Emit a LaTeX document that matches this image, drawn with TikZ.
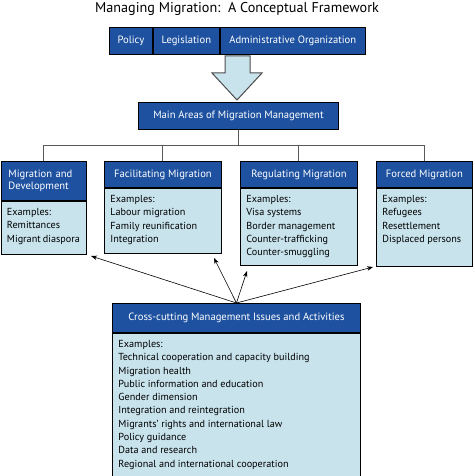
\documentclass[tikz,border=0pt]{standalone}
\usepackage{fontspec}
\setmainfont{PT Sans}
\usetikzlibrary{positioning,arrows.meta}
\definecolor{iomblue}{RGB}{30,82,160}
\definecolor{iomlight}{RGB}{200,227,236}
\tikzset{
    area-head/.style = {draw=black, fill=iomblue, text=white, line width=0.9pt, inner sep=0pt, font=\fontsize{10.6}{12}\selectfont},
    area-body/.style = {draw=black, fill=iomlight, line width=0.9pt, inner xsep=6pt, inner ysep=7pt, font=\fontsize{10.2}{13.3}\selectfont},
    tree-line/.style = {draw=black!65, line width=1pt},
    link-arrow/.style = {draw=black, line width=0.6pt, -{Stealth[length=6pt, width=4.5pt]}},
    big-arrow/.style = {draw=black!70, fill=iomlight, line width=1pt},
}

\begin{document}
\begin{tikzpicture}[x=1pt, y=-1pt]
\useasboundingbox (0,0) rectangle (474,476);
\node[font=\fontsize{14.2}{16}\selectfont] (title) at (237,9) {Managing Migration:\ \ A Conceptual Framework};

% top bar
\node[area-head, anchor=north west, minimum width=43pt, minimum height=27pt] (policy) at (109,27) {Policy};
\node[area-head, minimum width=66pt, minimum height=27pt, right=0pt of policy] (legis) {Legislation};
\node[area-head, minimum width=145pt, minimum height=27pt, right=0pt of legis] (admin) {Administrative Organization};

\draw[big-arrow] (225,56) -- (225,73) -- (212,73) -- (237,100) -- (262,73) -- (250,73) -- (250,56) -- cycle;

\node[area-head, anchor=north west, minimum width=200pt, minimum height=27pt] (main) at (138,102) {Main Areas of Migration Management};

% four areas
\node[area-head, anchor=north west, minimum width=85pt, minimum height=39pt, text width=70pt, align=left] (dev-head) at (0.5,161) {Migration and\\Development};
\node[area-body, below=0pt of dev-head] (dev-body) {\begin{minipage}[t][39pt][t]{73pt}Examples:\\Remittances\\Migrant diaspora\end{minipage}};

\node[area-head, anchor=north west, minimum width=117pt, minimum height=26pt] (fac-head) at (104,161) {Facilitating Migration};
\node[area-body, below=0pt of fac-head] (fac-body) {\begin{minipage}[t][51pt][t]{105pt}Examples:\\Labour migration\\Family reunification\\Integration\end{minipage}};

\node[area-head, anchor=north west, minimum width=117pt, minimum height=26pt] (reg-head) at (240,161) {Regulating Migration};
\node[area-body, below=0pt of reg-head] (reg-body) {\begin{minipage}[t][63pt][t]{105pt}Examples:\\Visa systems\\Border management\\Counter-trafficking\\Counter-smuggling\end{minipage}};

\node[area-head, anchor=north west, minimum width=96pt, minimum height=26pt] (forced-head) at (376,161) {Forced Migration};
\node[area-body, below=0pt of forced-head] (forced-body) {\begin{minipage}[t][64pt][t]{84pt}Examples:\\Refugees\\Resettlement\\Displaced persons\end{minipage}};

% cross-cutting
\node[area-head, anchor=north west, minimum width=248pt, minimum height=29pt] (cross-head) at (112,303) {Cross-cutting Management Issues and Activities};
\node[area-body, below=0pt of cross-head] (cross-body) {\begin{minipage}[t][129.5pt][t]{236pt}Examples:\\Technical cooperation and capacity building\\Migration health\\Public information and education\\Gender dimension\\Integration and reintegration\\Migrants' rights and international law\\Policy guidance\\Data and research\\Regional and international cooperation\end{minipage}};

% tree
\draw[tree-line] (main.south) -- ++(0,16) coordinate (bus);
\draw[tree-line] (dev-head.north) |- (bus) -| (forced-head.north);
\draw[tree-line] (fac-head.north) -- (fac-head.north |- bus);
\draw[tree-line] (reg-head.north) -- (reg-head.north |- bus);

% links
\coordinate (to-dev) at (91,256);
\coordinate (to-fac) at (214,258);
\coordinate (to-reg) at (247,271);
\coordinate (to-forced) at (373,267);
\draw[link-arrow] (cross-head.north) -- (to-dev);
\draw[link-arrow] (cross-head.north) -- (to-fac);
\draw[link-arrow] (cross-head.north) -- (to-reg);
\draw[link-arrow] (cross-head.north) -- (to-forced);
\end{tikzpicture}
\end{document}
